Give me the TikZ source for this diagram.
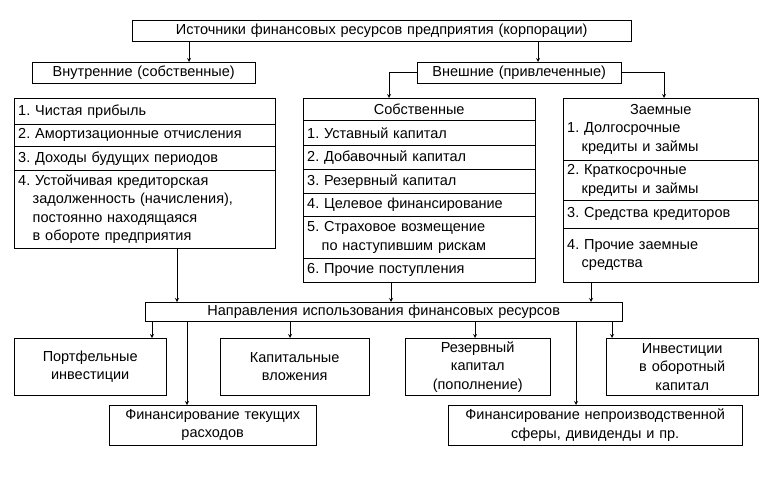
\documentclass[tikz,border=0pt]{standalone}
\usepackage{fontspec}
\setmainfont{Liberation Sans}
\frenchspacing
\usetikzlibrary{calc}

\begin{document}
\begin{tikzpicture}[x=1pt,y=-1pt,>=stealth,
		cell/.style={draw,anchor=north west,inner xsep=4pt,inner ysep=0pt,align=left,
			font=\fontsize{14.5}{18.5}\selectfont},
		head/.style={cell,align=center},
		link/.style={->,thick}
		]
	\useasboundingbox (0,0) rectangle (783,483);

	% top levels
	\node[head,minimum width=499pt,minimum height=21pt,text width=491pt](src) at (132,20)
		{Источники финансовых ресурсов предприятия (корпорации)};
	\node[head,minimum width=223pt,minimum height=21pt,text width=215pt](int) at (32,62)
		{Внутренние (собственные)};
	\node[head,minimum width=204pt,minimum height=21pt,text width=196pt](ext) at (417,62)
		{Внешние (привлеченные)};

	% internal
	\node[cell,minimum width=261pt,minimum height=26pt,text width=253pt](l1) at (14,98) {1. Чистая прибыль};
	\node[cell,minimum width=261pt,minimum height=22pt,text width=253pt](l2) at (14,124) {2. Амортизационные отчисления};
	\node[cell,minimum width=261pt,minimum height=24pt,text width=253pt](l3) at (14,146) {3. Доходы будущих периодов};
	\node[cell,minimum width=261pt,minimum height=78pt,text width=253pt](l4) at (14,170)
		{4. Устойчивая кредиторская\\\hspace*{1em}задолженность (начисления),\\\hspace*{1em}постоянно находящаяся\\\hspace*{1em}в обороте предприятия};

	% own
	\node[head,minimum width=232pt,minimum height=22pt,text width=224pt](sobh) at (303,98) {Собственные};
	\node[cell,minimum width=232pt,minimum height=25pt,text width=224pt](m1) at (303,120) {1. Уставный капитал};
	\node[cell,minimum width=232pt,minimum height=24pt,text width=224pt](m2) at (303,145) {2. Добавочный капитал};
	\node[cell,minimum width=232pt,minimum height=24pt,text width=224pt](m3) at (303,169) {3. Резервный капитал};
	\node[cell,minimum width=232pt,minimum height=23pt,text width=224pt](m4) at (303,193) {4. Целевое финансирование};
	\node[cell,minimum width=232pt,minimum height=42pt,text width=224pt](m5) at (303,216)
		{5. Страховое возмещение\\\hspace*{1em}по наступившим рискам};
	\node[cell,minimum width=232pt,minimum height=24pt,text width=224pt](m6) at (303,258) {6. Прочие поступления};

	% borrowed
	\node[cell,minimum width=195pt,minimum height=62pt,text width=187pt](zaem) at (563,98)
		{\makebox[\linewidth]{Заемные}\\1. Долгосрочные\\\hspace*{1em}кредиты и займы};
	\node[cell,minimum width=195pt,minimum height=40pt,text width=187pt](r2) at (563,160)
		{2. Краткосрочные\\\hspace*{1em}кредиты и займы};
	\node[cell,minimum width=195pt,minimum height=28pt,text width=187pt](r3) at (563,200) {3. Средства кредиторов};
	\node[cell,minimum width=195pt,minimum height=54pt,text width=187pt](r4) at (563,228)
		{4. Прочие заемные\\\hspace*{1em}средства};

	% uses
	\node[head,minimum width=477pt,minimum height=19pt,text width=469pt](bar) at (145,302)
		{Направления использования финансовых ресурсов};
	\node[head,minimum width=152pt,minimum height=57pt,text width=144pt](p1) at (14,338) {Портфельные\\инвестиции};
	\node[head,minimum width=149pt,minimum height=57pt,text width=141pt](p2) at (220,338) {Капитальные\\вложения};
	\node[head,minimum width=145pt,minimum height=57pt,text width=137pt](p3) at (405,338) {Резервный\\капитал\\(пополнение)};
	\node[head,minimum width=152pt,minimum height=57pt,text width=144pt](p4) at (606,338) {Инвестиции\\в оборотный\\капитал};
	\node[head,minimum width=207pt,minimum height=40pt,text width=199pt](f1) at (109,405) {Финансирование текущих\\расходов};
	\node[head,minimum width=294pt,minimum height=40pt,text width=286pt](f2) at (448,405)
		{Финансирование непроизводственной\\сферы, дивиденды и пр.};

	% arrow columns
	\coordinate (a1) at (189,0);
	\coordinate (a2) at (538,0);
	\coordinate (a3) at (389,0);
	\coordinate (a4) at (664,0);
	\coordinate (a5) at (177,0);
	\coordinate (a6) at (391,0);
	\coordinate (a7) at (591,0);
	\coordinate (b1) at (152,0);
	\coordinate (b2) at (187,0);
	\coordinate (b3) at (290,0);
	\coordinate (b4) at (475,0);
	\coordinate (b5) at (576,0);
	\coordinate (b6) at (612,0);

	\draw[link] (src.south -| a1) -- (int.north -| a1);
	\draw[link] (src.south -| a2) -- (ext.north -| a2);
	\draw[link] (ext.west) -| (sobh.north -| a3);
	\draw[link] (ext.east) -| (zaem.north -| a4);
	\draw[link] (l4.south -| a5) -- (bar.north -| a5);
	\draw[link] (m6.south -| a6) -- (bar.north -| a6);
	\draw[link] (r4.south -| a7) -- (bar.north -| a7);
	\draw[link] (bar.south -| b1) -- (p1.north -| b1);
	\draw[link] (bar.south -| b2) -- (f1.north -| b2);
	\draw[link] (bar.south -| b3) -- (p2.north -| b3);
	\draw[link] (bar.south -| b4) -- (p3.north -| b4);
	\draw[link] (bar.south -| b5) -- (f2.north -| b5);
	\draw[link] (bar.south -| b6) -- (p4.north -| b6);
\end{tikzpicture}
\end{document}
